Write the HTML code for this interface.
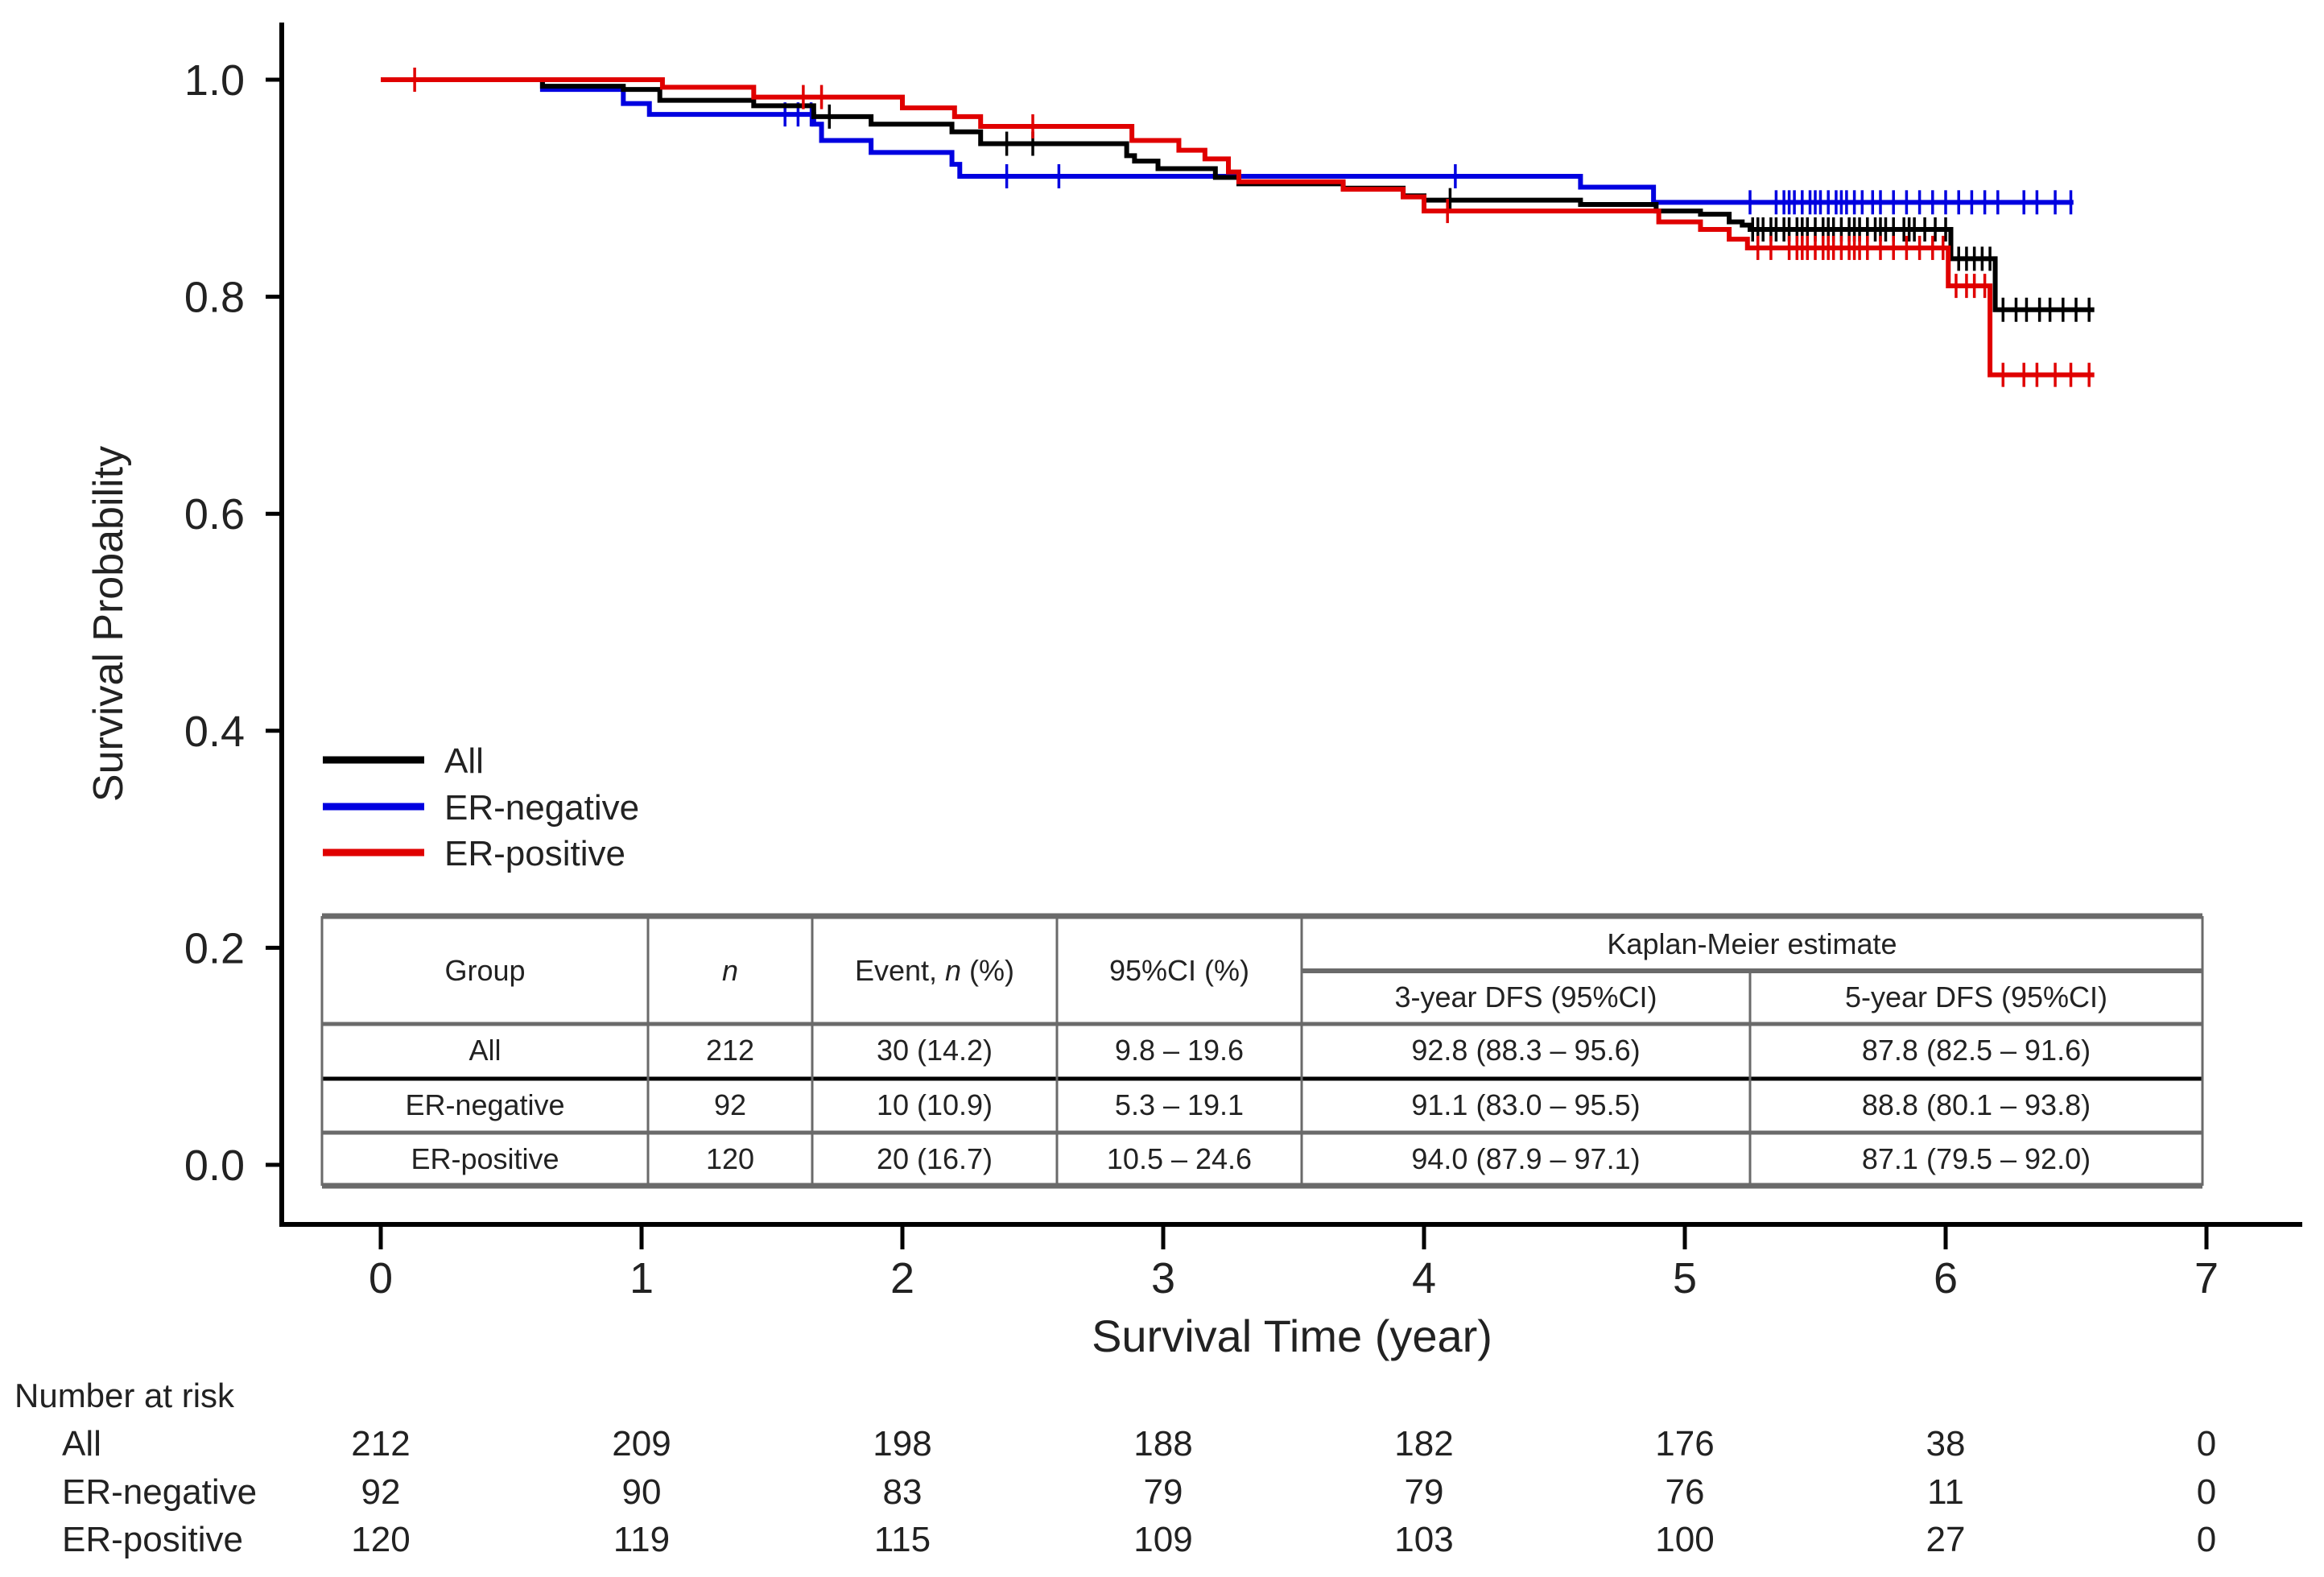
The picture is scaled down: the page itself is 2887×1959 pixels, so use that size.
<!DOCTYPE html>
<html><head><meta charset="utf-8"><style>
body{margin:0;background:#fff;}
svg{display:block;font-family:"Liberation Sans Narrow","Liberation Sans",sans-serif;}
</style></head><body>
<svg id="c" width="2887" height="1959" viewBox="0 0 2887 1959"></svg>
<script>
const xTicks=[0,1,2,3,4,5,6,7];
const yTicks=[0,0.2,0.4,0.6,0.8,1.0];
const yTickLabels=["0.0","0.2","0.4","0.6","0.8","1.0"];
const seriesNames=["All","ER-negative","ER-positive"];
const seriesColors=["#000","#0000e0","#e00000"];
const allTimes=[0,0.62,0.93,1.07,1.43,1.66,1.88,2.19,2.3,2.86,2.89,2.98,3.2,3.29,3.69,3.92,4.0,4.6,4.89,5.06,5.17,5.22,5.25,6.02,6.19,6.57];
const allSurv=[1.0,0.994,0.991,0.981,0.976,0.966,0.959,0.952,0.941,0.93,0.925,0.918,0.91,0.904,0.9,0.893,0.889,0.885,0.879,0.876,0.869,0.866,0.862,0.835,0.788,0.788];
const negTimes=[0,0.62,0.93,1.03,1.66,1.69,1.88,2.19,2.22,4.6,4.88,6.49];
const negSurv=[1.0,0.991,0.978,0.968,0.959,0.944,0.933,0.922,0.911,0.901,0.887,0.887];
const posTimes=[0,1.08,1.43,2.0,2.2,2.3,2.88,3.06,3.16,3.25,3.29,3.69,3.92,4.0,4.9,5.06,5.17,5.24,6.01,6.17,6.57];
const posSurv=[1.0,0.993,0.984,0.974,0.966,0.957,0.944,0.935,0.927,0.915,0.906,0.899,0.892,0.879,0.869,0.862,0.853,0.845,0.81,0.728,0.728];
const allCens=[1.72,2.4,2.5,4.1,5.26,5.28,5.3,5.33,5.35,5.38,5.4,5.43,5.45,5.47,5.5,5.53,5.55,5.57,5.6,5.63,5.65,5.67,5.7,5.73,5.75,5.77,5.8,5.84,5.86,5.88,5.92,5.96,6.0,6.05,6.08,6.11,6.14,6.17,6.22,6.27,6.31,6.36,6.4,6.45,6.5,6.55];
const negCens=[1.55,1.6,1.65,2.4,2.6,4.12,5.25,5.35,5.38,5.4,5.42,5.45,5.48,5.5,5.52,5.55,5.58,5.6,5.62,5.65,5.68,5.72,5.75,5.8,5.85,5.9,5.95,6.0,6.05,6.1,6.15,6.2,6.3,6.35,6.42,6.48];
const posCens=[0.13,1.62,1.69,2.5,4.09,5.28,5.33,5.4,5.43,5.45,5.47,5.5,5.53,5.55,5.57,5.6,5.63,5.65,5.67,5.7,5.75,5.8,5.85,5.9,5.95,5.99,6.04,6.08,6.11,6.15,6.22,6.3,6.35,6.42,6.48,6.55];
const riskAll=[212,209,198,188,182,176,38,0];
const riskNeg=[92,90,83,79,79,76,11,0];
const riskPos=[120,119,115,109,103,100,27,0];

const NS="http://www.w3.org/2000/svg";
const svg=document.getElementById('c');
const X=t=>473+t*324;
const Y=s=>1447-s*1348;
function mk(tag,attrs,parent){const e=document.createElementNS(NS,tag);for(const k in attrs)e.setAttribute(k,attrs[k]);(parent||svg).appendChild(e);return e;}
function txt(s,x,y,size,anchor,parent){const e=mk('text',{x:x,y:y,'font-size':size,'text-anchor':anchor||'middle',fill:'#222'},parent);e.textContent=s;return e;}

const yAxis=mk('line',{x1:350,y1:28,x2:350,y2:1524,stroke:'#000','stroke-width':6});


const xAxis=mk('line',{x1:347,y1:1521,x2:2860,y2:1521,stroke:'#000','stroke-width':6});


yTicks.forEach((v,i)=>{
  mk('line',{x1:330,y1:Y(v),x2:350,y2:Y(v),stroke:'#000','stroke-width':5});
  const t=txt(yTickLabels[i],304,Y(v)+19,54,'end');
  
  
});
xTicks.forEach(v=>{
  mk('line',{x1:X(v),y1:1521,x2:X(v),y2:1552,stroke:'#000','stroke-width':5});
  const t=txt(String(v),X(v),1606,54);
  
  
});
const xt=txt('Survival Time (year)',1605,1679,56);


const yt=txt('Survival Probability',0,0,52);
yt.setAttribute('transform','translate(152,775) rotate(-90)');



function curve(times,surv,cens,color,name){
  const g=mk('g',{});
  
  
  let d='M'+X(times[0])+','+Y(surv[0]);
  for(let i=1;i<times.length;i++){d+=' H'+X(times[i])+' V'+Y(surv[i]);}
  mk('path',{d:d,fill:'none',stroke:color,'stroke-width':6},g);
  cens.forEach(t=>{
    let s=surv[0];
    for(let i=0;i<times.length;i++){if(times[i]<=t)s=surv[i];}
    const m=mk('line',{x1:X(t),x2:X(t),y1:Y(s)-15,y2:Y(s)+15,stroke:color,'stroke-width':3.5},g);
    
    
  });
}
curve(negTimes,negSurv,negCens,seriesColors[1],'er-negative');
curve(allTimes,allSurv,allCens,seriesColors[0],'all');
curve(posTimes,posSurv,posCens,seriesColors[2],'er-positive');

const legY=[944,1002,1059];
seriesNames.forEach((n,i)=>{
  const g=mk('g',{});
  
  
  mk('line',{x1:401,x2:527,y1:legY[i],y2:legY[i],stroke:seriesColors[i],'stroke-width':9},g);
  txt(n,552,legY[i]+16,44,'start',g);
});

const tg=mk('g',{});


const cx=[400,805,1009,1313,1617,2174,2736];
const ry=[1138,1206,1272,1340,1407,1473];
const gc='#6a6a6a';
ry.forEach((y,i)=>{ if(i!==1) mk('line',{x1:400,x2:2736,y1:y,y2:y,stroke:(i===3?'#000':gc),'stroke-width':i===0||i===5?7:5},tg);});
mk('line',{x1:1617,x2:2736,y1:1206,y2:1206,stroke:gc,'stroke-width':6},tg);
cx.forEach((x,i)=>{ if(i===5) mk('line',{x1:x,x2:x,y1:1206,y2:1473,stroke:gc,'stroke-width':3},tg); else mk('line',{x1:x,x2:x,y1:1138,y2:1473,stroke:gc,'stroke-width':3},tg);});
const fs=36;
const mid=(a,b)=>(a+b)/2;
txt('Group',mid(cx[0],cx[1]),1218,fs,'middle',tg);
const nT=txt('n',mid(cx[1],cx[2]),1218,fs,'middle',tg);nT.setAttribute('font-style','italic');
const ev=txt('',mid(cx[2],cx[3]),1218,fs,'middle',tg);
ev.innerHTML='Event, <tspan font-style="italic">n</tspan> (%)';
txt('95%CI (%)',mid(cx[3],cx[4]),1218,fs,'middle',tg);
txt('Kaplan-Meier estimate',mid(cx[4],cx[6]),1185,fs,'middle',tg);
txt('3-year DFS (95%CI)',mid(cx[4],cx[5]),1251,fs,'middle',tg);
txt('5-year DFS (95%CI)',mid(cx[5],cx[6]),1251,fs,'middle',tg);
const rows=[["All","212","30 (14.2)","9.8 – 19.6","92.8 (88.3 – 95.6)","87.8 (82.5 – 91.6)"],
["ER-negative","92","10 (10.9)","5.3 – 19.1","91.1 (83.0 – 95.5)","88.8 (80.1 – 93.8)"],
["ER-positive","120","20 (16.7)","10.5 – 24.6","94.0 (87.9 – 97.1)","87.1 (79.5 – 92.0)"]];
rows.forEach((r,i)=>{r.forEach((c,j)=>{txt(c,mid(cx[j],cx[j+1]),ry[i+2]+45,fs,'middle',tg);});});

const nr=txt('Number  at risk',18,1748,42,'start');


const riskRows=[riskAll,riskNeg,riskPos];
const riskY=[1808,1868,1927];
riskRows.forEach((arr,i)=>{
  const g=mk('g',{});
  
  
  txt(seriesNames[i],77,riskY[i],44,'start',g);
  arr.forEach((v,j)=>txt(String(v),X(xTicks[j]),riskY[i],44,'middle',g));
});
</script>
</body></html>
